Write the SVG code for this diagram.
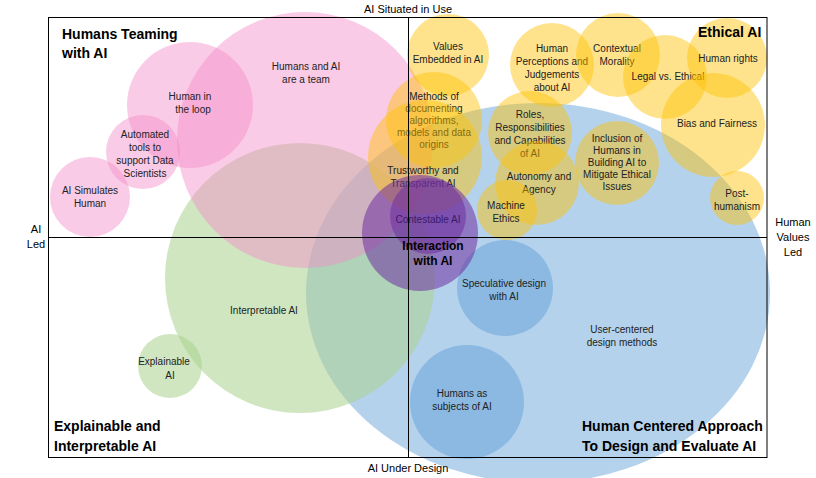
<svg xmlns="http://www.w3.org/2000/svg" width="816" height="478" viewBox="0 0 816 478">
<style>
text{font-family:"Liberation Sans",Arial,sans-serif;font-size:10px;fill:#222;text-anchor:middle}
.t{font-size:14px;font-weight:bold;text-anchor:start;fill:#000}
.ax{font-size:11px;fill:#000}
.y{fill:#ffc000;fill-opacity:.45}
.p{fill:#f48cc8;fill-opacity:.45}
.g{fill:#a9d18e;fill-opacity:.55}
.b{fill:#5b9bd5;fill-opacity:.45}
.v{fill:#7030a0;fill-opacity:.55}
</style>
<rect width="816" height="478" fill="#fff"/>
<g id="user-centered"><ellipse class="b" cx="538" cy="293" rx="232" ry="190"/><text x="622" y="333">User-centered</text><text x="622" y="346">design methods</text></g>
<g id="interpretable"><circle class="g" cx="300" cy="278" r="135"/><text x="264" y="314">Interpretable AI</text></g>
<g id="explainable"><circle class="g" cx="170" cy="366" r="32"/><text x="164" y="365">Explainable</text><text x="170" y="379">AI</text></g>
<g id="team"><circle class="p" cx="305" cy="140" r="128"/><text x="306" y="70">Humans and AI</text><text x="306" y="83">are a team</text></g>
<g id="loop"><circle class="p" cx="190" cy="105" r="63"/><text x="190" y="100">Human in</text><text x="193" y="113">the  loop</text></g>
<g id="tools"><circle class="p" cx="143" cy="152" r="37"/><text x="145" y="138">Automated</text><text x="145" y="151">tools to</text><text x="145" y="164">support Data</text><text x="145" y="177">Scientists</text></g>
<g id="simulates"><circle class="p" cx="90" cy="197" r="40"/><text x="90" y="194">AI Simulates</text><text x="90" y="207">Human</text></g>
<g id="speculative"><circle class="b" cx="505" cy="288" r="48"/><text x="504" y="287">Speculative design</text><text x="504" y="300">with AI</text></g>
<g id="subjects"><circle class="b" cx="467" cy="402" r="57"/><text x="462" y="397">Humans as</text><text x="462" y="410">subjects of AI</text></g>
<g id="values"><circle class="y" cx="448" cy="55" r="41"/><text x="448" y="50">Values</text><text x="448" y="63">Embedded in AI</text></g>
<g id="perceptions"><circle class="y" cx="552" cy="65" r="42"/><text x="552" y="52">Human</text><text x="552" y="65">Perceptions and</text><text x="552" y="78">Judgements</text><text x="552" y="91">about AI</text></g>
<g id="contextual"><circle class="y" cx="618" cy="55" r="42"/><text x="617" y="52">Contextual</text><text x="617" y="65">Morality</text></g>
<g id="legal"><circle class="y" cx="665" cy="77" r="42"/><text x="668" y="80">Legal vs. Ethical</text></g>
<g id="rights"><circle class="y" cx="727" cy="58" r="40"/><text x="728" y="62">Human rights</text></g>
<g id="bias"><circle class="y" cx="713" cy="125" r="52"/><text x="717" y="127">Bias and Fairness</text></g>
<g id="methods"><circle class="y" cx="434" cy="120" r="48"/><text x="434" y="100">Methods of</text><text x="434" y="112">documenting</text><text x="434" y="124">algorithms,</text><text x="434" y="136">models and data</text><text x="434" y="148">origins</text></g>
<g id="trustworthy"><circle class="y" cx="425" cy="157" r="57"/><text x="423" y="174">Trustworthy and</text><text x="423" y="187">Transparent AI</text></g>
<g id="roles"><circle class="y" cx="530" cy="133" r="42"/><text x="530" y="118">Roles,</text><text x="530" y="131">Responsibilities</text><text x="530" y="144">and Capabilities</text><text x="530" y="157">of AI</text></g>
<g id="autonomy"><circle class="y" cx="537" cy="183" r="42"/><text x="539" y="180">Autonomy and</text><text x="539" y="193">Agency</text></g>
<g id="machine"><circle class="y" cx="507" cy="210" r="30"/><text x="506" y="209">Machine</text><text x="506" y="222">Ethics</text></g>
<g id="inclusion"><circle class="y" cx="617" cy="163" r="42"/><text x="617" y="142">Inclusion of</text><text x="617" y="154">Humans in</text><text x="617" y="166">Building AI to</text><text x="617" y="178">Mitigate Ethical</text><text x="617" y="190">Issues</text></g>
<g id="posthumanism"><circle class="y" cx="737" cy="198" r="27"/><text x="737" y="197">Post-</text><text x="737" y="210">humanism</text></g>
<g id="interaction"><circle class="v" cx="420" cy="233" r="58"/><circle class="v" cx="428" cy="216" r="38" fill-opacity=".35"/><text x="428" y="223" style="fill:#3a1a6a">Contestable AI</text><text x="433" y="250" style="font-weight:bold;font-size:12px;fill:#000">Interaction</text><text x="433" y="265" style="font-weight:bold;font-size:12px;fill:#000">with AI</text></g>
<g id="connectors" stroke="#000" stroke-width="1" fill="none">
<rect x="48.5" y="17.5" width="718.5" height="440"/>
<line x1="408.5" y1="17" x2="408.5" y2="457"/>
<line x1="48" y1="237.5" x2="767" y2="237.5"/>
</g>
<g id="labels">
<text class="ax" x="408" y="13">AI Situated in Use</text>
<text class="ax" x="408" y="472">AI Under Design</text>
<text class="ax" x="36" y="233">AI</text><text class="ax" x="36" y="248">Led</text>
<text class="ax" x="793" y="226">Human</text><text class="ax" x="793" y="241">Values</text><text class="ax" x="793" y="256">Led</text>
<text class="t" x="62" y="39">Humans Teaming</text><text class="t" x="62" y="58">with AI</text>
<text class="t" x="698" y="37">Ethical AI</text>
<text class="t" x="54" y="431">Explainable and</text><text class="t" x="54" y="451">Interpretable AI</text>
<text class="t" x="582" y="431">Human Centered Approach</text><text class="t" x="582" y="451">To Design and Evaluate AI</text>
</g>
</svg>
